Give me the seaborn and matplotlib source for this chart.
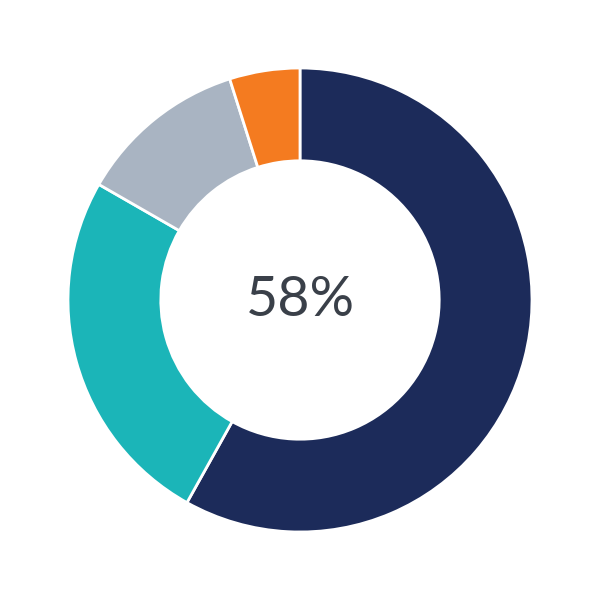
import matplotlib.pyplot as plt
import seaborn as sns

sns.set_theme(style="white")
plt.rcParams['font.family'] = ['Lato', 'DejaVu Sans']

# Shares of the ring, clockwise from 12 o'clock
labels = ["Navy", "Teal", "Gray", "Orange"]
shares = [58.1, 25.2, 11.8, 4.9]
colors = ["#1c2b5a", "#1bb5b8", "#a9b4c2", "#f47b20"]
center_label = "58%"

fig = plt.figure(figsize=(6, 6), dpi=100)
ax = fig.add_axes([0, 0, 1, 1])
ax.pie(shares, colors=colors, startangle=90, counterclock=False,
       radius=1, wedgeprops=dict(width=0.4, edgecolor="white", linewidth=2))
ax.text(0, 0, center_label, ha="center", va="center", fontsize=40,
        color="#3a4049", fontweight="normal")
lim = 300 / 232
ax.set_xlim(-lim, lim)
ax.set_ylim(-lim, lim)
ax.set_aspect("equal")
ax.axis("off")
fig.savefig("out.png", dpi=100, facecolor="white")
